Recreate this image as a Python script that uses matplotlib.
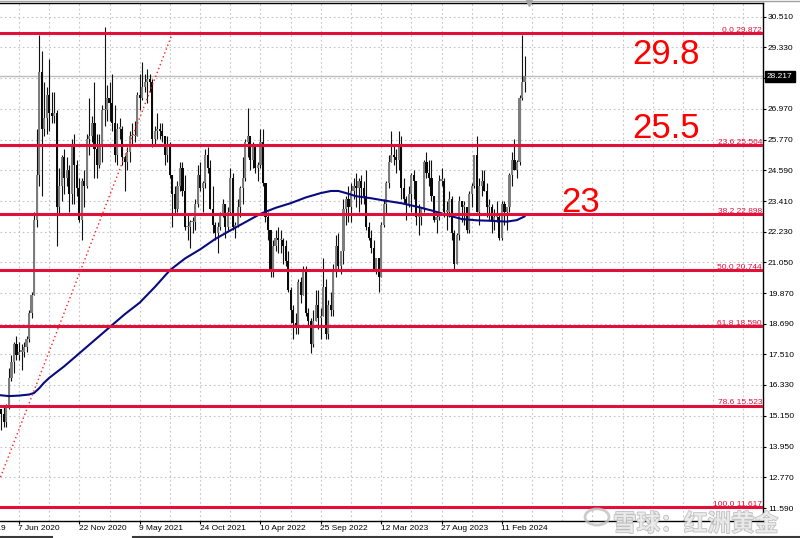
import matplotlib
matplotlib.use("Agg")
import matplotlib.pyplot as plt
import matplotlib.patheffects as pe
from matplotlib.lines import Line2D
from matplotlib.patches import Circle
import numpy as np

plt.rcParams['font.family'] = ['Liberation Sans', 'DejaVu Sans']

# weekly XAGUSD bars, week index 0 = 7 Jun 2020
first_week = -9
first_open = 14.3
highs = [15.8, 15.9, 15.4, 15.5, 15.6, 17.0, 17.5, 18.0, 18.2, 18.0,
         17.9, 18.0, 18.2, 19.2, 19.9, 23.0, 26.2, 29.8, 29.2, 28.0,
         27.8, 28.9, 27.6, 27.6, 26.9, 24.7, 25.2, 25.4, 25.1, 24.8,
         25.8, 26.0, 25.0, 24.3, 24.3, 24.6, 26.0, 27.4, 26.7, 28.0,
         26.0, 26.0, 27.1, 30.1, 27.9, 28.0, 28.3, 27.1, 26.4, 26.6,
         26.3, 25.2, 25.5, 26.1, 26.4, 26.5, 27.6, 28.3, 28.75, 28.3,
         28.5, 28.3, 28.1, 26.3, 26.8, 26.4, 26.4, 25.9, 25.9, 25.7,
         24.4, 24.0, 24.2, 24.9, 24.9, 24.4, 22.9, 22.7, 22.8, 23.5,
         24.8, 24.9, 24.2, 25.4, 25.5, 25.0, 24.0, 22.6, 22.6, 23.0,
         23.5, 23.3, 23.2, 24.7, 24.5, 22.6, 23.5, 24.0, 25.1, 25.8,
         27.0, 25.9, 25.7, 25.6, 24.9, 26.2, 26.2, 24.1, 23.0, 22.3,
         21.9, 22.3, 22.4, 22.3, 22.0, 21.9, 21.5, 20.1, 19.4, 19.1,
         20.4, 20.5, 20.9, 20.9, 19.3, 18.9, 19.2, 20.0, 20.0, 19.3,
         21.2, 20.4, 19.6, 19.9, 21.0, 22.1, 22.2, 21.5, 23.5, 23.6,
         24.0, 24.1, 24.3, 24.5, 24.3, 24.4, 24.2, 24.6, 22.6, 22.3,
         21.9, 21.2, 21.2, 22.6, 23.5, 24.2, 25.2, 26.1, 25.6, 25.4,
         26.1, 25.9, 24.3, 23.6, 24.0, 24.5, 24.6, 24.2, 23.3, 23.2,
         25.0, 25.3, 25.0, 25.0, 23.6, 23.0, 24.4, 24.7, 24.3, 23.4,
         23.8, 23.6, 22.3, 22.2, 23.6, 23.4, 23.4, 23.2, 23.8, 24.1,
         25.2, 25.9, 24.3, 24.6, 24.6, 24.1, 23.5, 23.3, 23.1, 23.4,
         22.9, 23.4, 23.4, 23.2, 24.5, 25.3, 25.8, 25.0, 27.5, 29.8, 29.0]
lows = [14.3, 15.0, 14.6, 14.7, 14.7, 15.4, 16.5, 16.8, 17.3, 17.3,
        16.9, 17.4, 17.6, 18.0, 18.9, 19.8, 22.4, 24.0, 23.6, 25.9,
        26.0, 26.1, 26.4, 26.4, 21.7, 22.9, 23.4, 23.7, 24.0, 23.0,
        23.3, 23.3, 23.6, 22.6, 21.9, 23.2, 23.9, 25.2, 25.7, 24.3,
        24.3, 24.7, 24.9, 26.3, 26.5, 26.5, 26.1, 24.9, 24.8, 25.8,
        24.8, 23.8, 24.6, 24.9, 25.6, 25.7, 25.9, 26.9, 27.3, 27.6,
        27.2, 27.6, 25.5, 25.6, 25.8, 25.8, 25.7, 24.8, 24.9, 24.3,
        22.4, 22.9, 23.0, 23.8, 23.6, 22.3, 21.9, 21.6, 22.2, 22.3,
        23.2, 23.8, 23.0, 23.9, 24.5, 23.1, 22.2, 21.9, 21.4, 22.3,
        22.8, 22.0, 22.3, 22.9, 22.3, 22.0, 22.4, 22.8, 23.3, 24.2,
        25.1, 24.6, 24.7, 24.5, 24.2, 24.7, 24.0, 22.6, 21.9, 20.5,
        20.5, 21.5, 21.4, 21.4, 21.0, 20.9, 19.9, 18.7, 18.1, 18.3,
        18.3, 19.5, 19.8, 19.0, 18.6, 17.55, 17.8, 18.8, 18.5, 18.1,
        19.0, 18.1, 18.1, 19.0, 19.0, 20.5, 20.7, 20.6, 21.0, 22.5,
        22.6, 22.6, 23.5, 23.2, 23.0, 23.3, 23.3, 22.3, 21.9, 21.4,
        20.7, 20.6, 19.9, 20.5, 22.4, 22.9, 23.9, 24.9, 24.8, 24.5,
        24.6, 23.5, 23.3, 22.7, 23.2, 23.0, 23.5, 22.5, 22.1, 22.5,
        23.0, 24.3, 24.0, 23.4, 22.6, 22.2, 22.7, 24.0, 22.8, 22.3,
        22.8, 21.9, 20.7, 21.0, 21.9, 22.6, 22.5, 22.2, 22.2, 23.2,
        23.9, 23.0, 22.5, 23.6, 23.8, 22.8, 22.7, 22.2, 22.3, 22.6,
        21.9, 21.9, 22.5, 22.3, 23.0, 24.0, 24.6, 24.3, 24.8, 27.3, 27.6]
closes = [15.4, 15.4, 15.2, 14.9, 15.5, 16.6, 17.2, 17.9, 17.5, 17.6,
          17.6, 17.8, 18.1, 19.1, 19.8, 22.7, 24.4, 28.4, 26.2, 26.6,
          27.5, 26.8, 26.7, 26.8, 23.2, 24.0, 25.1, 24.3, 24.6, 23.7,
          25.5, 24.8, 23.9, 22.7, 24.2, 24.0, 25.8, 25.9, 26.4, 25.4,
          24.8, 25.5, 26.9, 26.9, 27.4, 27.2, 26.4, 25.2, 26.2, 26.2,
          25.1, 24.9, 25.3, 25.9, 25.9, 25.9, 27.5, 27.4, 27.8, 28.0,
          28.1, 28.0, 25.8, 26.1, 26.2, 26.1, 25.9, 25.2, 25.5, 24.4,
          23.7, 23.1, 24.0, 24.7, 23.8, 22.4, 22.4, 22.6, 22.6, 23.3,
          24.4, 23.9, 24.1, 25.2, 24.7, 23.1, 22.5, 22.2, 22.4, 22.9,
          23.3, 22.4, 23.0, 24.3, 22.4, 22.5, 23.2, 23.9, 24.3, 25.7,
          25.9, 25.0, 25.6, 24.7, 24.8, 25.7, 24.1, 22.8, 22.3, 20.8,
          21.7, 22.0, 21.9, 21.9, 21.7, 21.1, 20.0, 19.2, 18.7, 18.6,
          20.3, 19.8, 20.8, 19.1, 18.8, 17.9, 18.8, 19.4, 18.9, 19.0,
          20.1, 18.3, 19.4, 19.2, 20.8, 21.7, 20.9, 21.5, 23.1, 23.5,
          23.2, 23.8, 24.0, 23.9, 24.2, 23.9, 23.6, 22.4, 22.0, 21.6,
          20.8, 21.2, 20.5, 22.5, 23.3, 24.1, 24.9, 25.2, 25.1, 25.0,
          25.6, 23.9, 23.5, 23.3, 23.7, 24.4, 24.2, 22.8, 22.8, 23.1,
          24.9, 24.5, 24.3, 23.6, 22.7, 22.8, 24.2, 24.2, 23.0, 23.0,
          23.5, 22.2, 21.0, 22.1, 23.4, 23.2, 23.2, 22.3, 23.7, 24.0,
          25.2, 23.0, 24.0, 24.2, 23.8, 23.2, 23.2, 22.6, 22.8, 22.8,
          22.0, 23.3, 23.0, 23.2, 24.4, 25.0, 24.6, 24.9, 27.4, 28.0, 28.217]

# moving average (week, value)
ma_weeks = [-8, -4, 0, 4, 6, 8, 10, 12, 18, 24, 30, 36, 42, 48, 54, 60, 66, 72, 78,
            84, 90, 96, 102, 108, 114, 120, 124, 127, 130, 134, 140, 146, 152, 158,
            164, 170, 176, 182, 188, 194, 198, 201]
ma_values = [15.94, 15.90, 15.92, 15.96, 16.02, 16.2, 16.42, 16.6, 17.05, 17.55,
             18.05, 18.55, 19.05, 19.5, 20.1, 20.75, 21.2, 21.55, 21.95, 22.28,
             22.6, 22.92, 23.15, 23.33, 23.55, 23.72, 23.8, 23.8, 23.72, 23.6,
             23.52, 23.42, 23.33, 23.2, 23.05, 22.88, 22.72, 22.67, 22.65, 22.62,
             22.68, 22.82]

# fibonacci retracement
fib_ratios = ['0.0', '23.6', '38.2', '50.0', '61.8', '78.6', '100.0']
fib_levels = [29.872, 25.564, 22.898, 20.744, 18.590, 15.523, 11.617]
fib_anchor_weeks = [-12, 61]
fib_anchor_prices = [11.617, 29.872]

price_now = 28.217
big_notes = ['29.8', '25.5', '23']

ytick_vals = [30.51, 29.33, 28.15, 26.97, 25.77, 24.59, 23.41, 22.23, 21.05,
              19.87, 18.69, 17.51, 16.33, 15.15, 13.95, 12.77, 11.59]
date_weeks = [-24, 0, 24, 48, 72, 96, 120, 144, 168, 192]
date_labels = ['22 Dec 2019', '7 Jun 2020', '22 Nov 2020', '9 May 2021',
               '24 Oct 2021', '10 Apr 2022', '25 Sep 2022', '12 Mar 2023',
               '27 Aug 2023', '11 Feb 2024']

W, H = 800, 538
fig = plt.figure(figsize=(W / 100, H / 100), dpi=100)
ax = fig.add_axes([0, 17 / H, 763 / W, 518 / H])
ax.set_xlim(-7.55, 295.8)
ax.set_ylim(11.09, 31.04)

# grid
grid_style = dict(color='#c4c4c4', lw=0.8, linestyle=(0, (1.5, 2.5)), zorder=0.5)
for w in np.arange(-12, 300, 12):
    ax.axvline(w, **grid_style)
for v in ytick_vals:
    ax.axhline(v, **grid_style)

# candles
weeks = np.arange(first_week, first_week + len(closes))
opens = [first_open] + closes[:-1]
o = np.array(opens)
c = np.array(closes)
up = c >= o
ax.vlines(weeks, lows, highs, color='#111111', lw=0.8, zorder=2)
body = np.maximum(np.abs(c - o), 0.06)
ax.bar(weeks[up], body[up], bottom=np.minimum(o, c)[up], width=0.85,
       color='#7c7c7c', zorder=2.5)
ax.bar(weeks[~up], body[~up], bottom=np.minimum(o, c)[~up], width=0.85,
       color='#0a0a0a', zorder=2.5)

# current price line
ax.axhline(price_now, color='#bdbdbd', lw=1, zorder=1)

# moving average
ax.plot(ma_weeks, ma_values, color='#0a0a80', lw=1.5, zorder=3)

# fib lines + labels
fib_color = '#e0103a'
for r, lv in zip(fib_ratios, fib_levels):
    ax.axhline(lv, color=fib_color, lw=2.2, zorder=4)
    ax.annotate(f'{r} {lv:.3f}', xy=(1, lv), xycoords=('axes fraction', 'data'),
                xytext=(-1, 1.5), textcoords='offset pixels', ha='right',
                va='baseline', fontsize=6, color=fib_color, zorder=5)
ax.plot(fib_anchor_weeks, fib_anchor_prices, color='#ff2020', lw=1,
        linestyle=(0, (1, 2)), zorder=4.5)

# axes frame
ax.spines['left'].set_visible(False)
for s in ['top', 'right', 'bottom']:
    ax.spines[s].set_color('black')
    ax.spines[s].set_linewidth(1)

ax.yaxis.tick_right()
ax.set_yticks(ytick_vals)
ax.set_yticklabels(['' if abs(v - 28.15) < 1e-6 else f'{v:.3f}' for v in ytick_vals])
ax.tick_params(axis='y', labelsize=6, length=2.5, width=0.8, pad=1)
ax.set_xticks(date_weeks[1:])
ax.set_xticklabels([])
ax.tick_params(axis='x', length=2, width=0.8)

# date labels (the first one is partly off the left edge, as in MT4)
for w, lbl in zip(date_weeks, date_labels):
    ax.annotate(lbl, xy=(w, 0), xycoords=('data', 'axes fraction'),
                xytext=(-0.5, -4), textcoords='offset pixels', ha='left',
                va='top', fontsize=6, annotation_clip=False)

# current price box
ax.annotate(f'{price_now:.3f}', xy=(1, price_now), xycoords=('axes fraction', 'data'),
            xytext=(4, 0), textcoords='offset pixels', ha='left', va='center',
            fontsize=6, color='white', zorder=6,
            bbox=dict(boxstyle='square,pad=0.25', fc='black', ec='black'))

# chart shift marker
ax.plot([202.8], [31.04], marker='v', ms=4, color='#a8a8a8', clip_on=False, zorder=6)

# big red notes
for txt, (px, py) in zip(big_notes, [(632, 64), (632, 138), (561, 212)]):
    fig.text(px / W, 1 - py / H, txt, fontsize=25, color='#ff0000',
             ha='left', va='baseline')

# window borders
fig.add_artist(Line2D([0, 1], [1 - 0.5 / H] * 2, color='#a0a0a0', lw=1))
fig.add_artist(Line2D([0, 52 / W], [1 / H] * 2, color='#3a3a3a', lw=1.5))
fig.add_artist(Line2D([133 / W, 1], [1 / H] * 2, color='#3a3a3a', lw=1.5))

# watermark
fig.add_artist(Circle((597 / W, 1 - 517 / H), 12 / W, transform=fig.transFigure,
                      fill=False, ec='#c0c0c0', lw=2, alpha=0.8))
fig.text(613 / W, 1 - 531 / H, '雪球：红洲黄金', fontsize=17, color='#ececec',
         family=['Noto Sans CJK SC', 'DejaVu Sans'], weight='bold',
         ha='left', va='baseline', alpha=0.85,
         path_effects=[pe.withStroke(linewidth=1.0, foreground='#b0b0b0')])

fig.savefig('out.png', dpi=100)
